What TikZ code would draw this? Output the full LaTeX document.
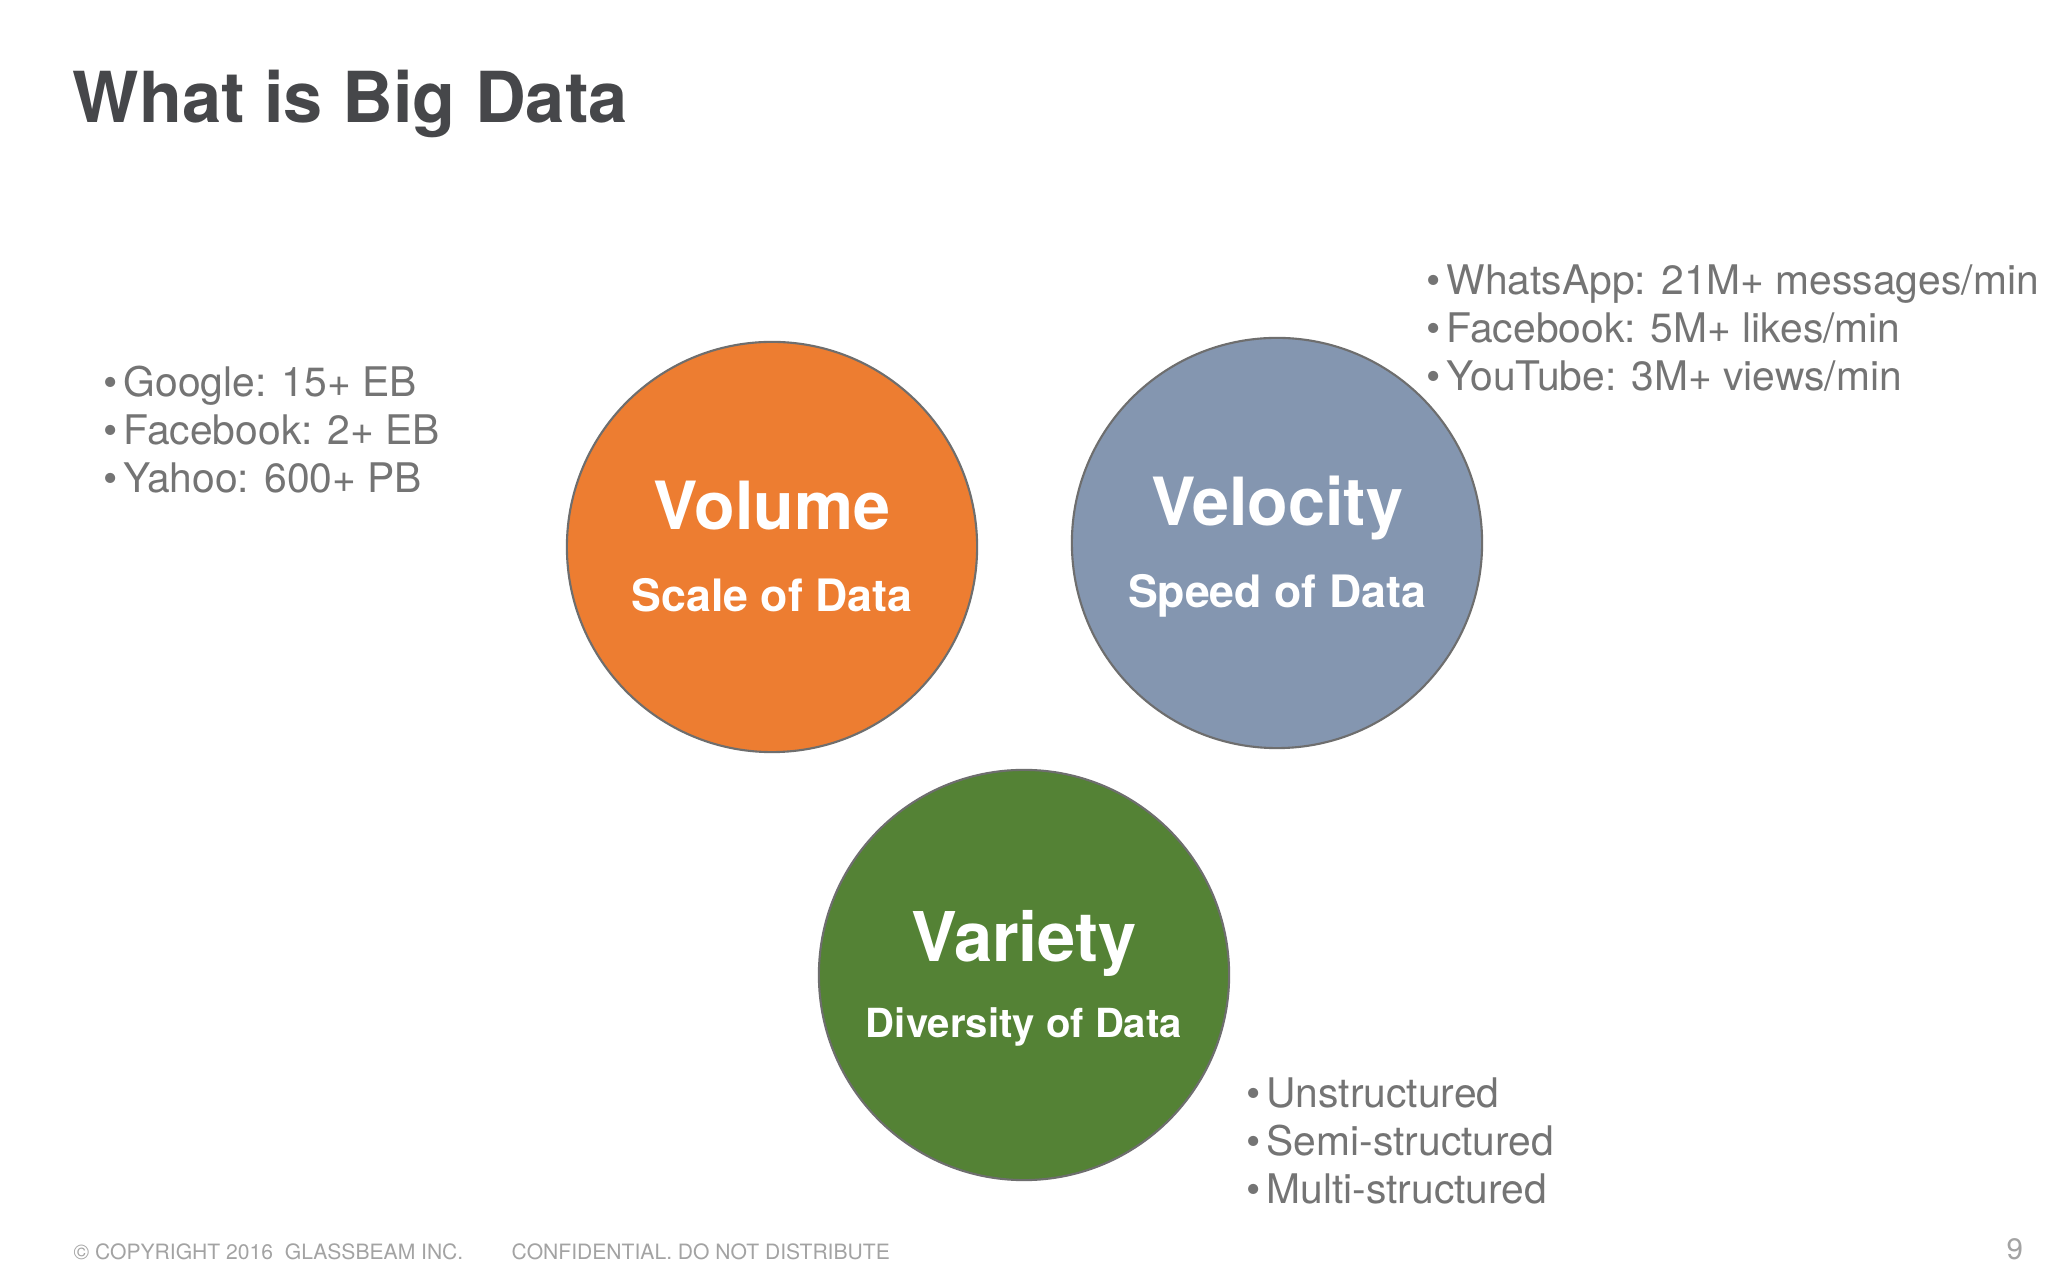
\documentclass[tikz,border=0pt]{standalone}
\usepackage{fontspec}
\setmainfont{TeX Gyre Heros}
\usetikzlibrary{calc}
\definecolor{titlegray}{HTML}{46474A}
\definecolor{notegray}{HTML}{747474}
\definecolor{footgray}{HTML}{A3A3A3}
\definecolor{volorange}{HTML}{ED7D31}
\definecolor{velblue}{HTML}{8496B0}
\definecolor{vargreen}{HTML}{548235}
\definecolor{rimgray}{HTML}{6E6E6E}
\newcommand{\itembul}{\llap{\textbullet\hspace{0.6mm}}}

\begin{document}
\begin{tikzpicture}[x=0.01cm, y=-0.01cm,
    vee/.style={circle, draw=rimgray, line width=0.6pt, minimum size=4.1cm, inner sep=0pt},
    vname/.style={anchor=base, inner sep=0pt, text=white, font=\fontsize{18.9}{22}\selectfont\bfseries},
    vsub/.style={anchor=base, inner sep=0pt, text=white, font=\fontsize{12.7}{15}\selectfont\bfseries},
    note/.style={anchor=base west, inner sep=0pt, text=notegray, font=\fontsize{11.6}{13.7}\selectfont},
    foot/.style={anchor=base west, inner sep=0pt, text=footgray, font=\fontsize{6}{7}\selectfont}]
  \fill[white] (0,0) rectangle (2048,1280);
  \useasboundingbox (0,0) rectangle (2048,1280);
  % title
  \node[anchor=base west, inner sep=0pt, text=titlegray, font=\fontsize{20}{24}\selectfont\bfseries]
       (title) at (72,123) {What is Big Data};
  % the three V's
  \node[vee, fill=volorange] (volume) at (772,547) {};
  \node[vname] (volname) at ($(volume)+(0,-17)$) {Volume};
  \node[vsub] (volsub) at ($(volume)+(0,65)$) {Scale of Data};
  \node[vee, fill=velblue] (velocity) at (1277,543) {};
  \node[vname] (velname) at ($(velocity)+(0,-17)$) {Velocity};
  \node[vsub] (velsub) at ($(velocity)+(0,65)$) {Speed of Data};
  \node[vee, fill=vargreen] (variety) at (1024,975) {};
  \node[vname, font=\fontsize{19.5}{22}\selectfont\bfseries] (varname) at ($(variety)+(0,-13)$) {Variety};
  \node[vsub, font=\fontsize{11.4}{14}\selectfont\bfseries] (varsub) at ($(variety)+(0,63)$) {Diversity of Data};
  % examples
  \foreach \t [count=\i from 0] in {Google: 15+ EB, Facebook: 2+ EB, Yahoo: 600+ PB}
    \node[note] (volnote\i) at (123,{397+48*\i}) {\itembul\t};
  \foreach \t [count=\i from 0] in {WhatsApp: 21M+ messages/min, Facebook: 5M+ likes/min, YouTube: 3M+ views/min}
    \node[note] (velnote\i) at (1446,{295+48*\i}) {\itembul\t};
  \foreach \t [count=\i from 0] in {Unstructured, Semi-structured, Multi-structured}
    \node[note] (varnote\i) at (1266,{1108+48*\i}) {\itembul\t};
  % footer
  \node[foot] (copy) at (73,1260) {\textcopyright{} COPYRIGHT 2016\ \ GLASSBEAM INC.};
  \node[foot] (conf) at (511,1260) {CONFIDENTIAL. DO NOT DISTRIBUTE};
  \node[foot, font=\fontsize{8.4}{10}\selectfont] (pageno) at (2006,1260) {9};
\end{tikzpicture}
\end{document}
